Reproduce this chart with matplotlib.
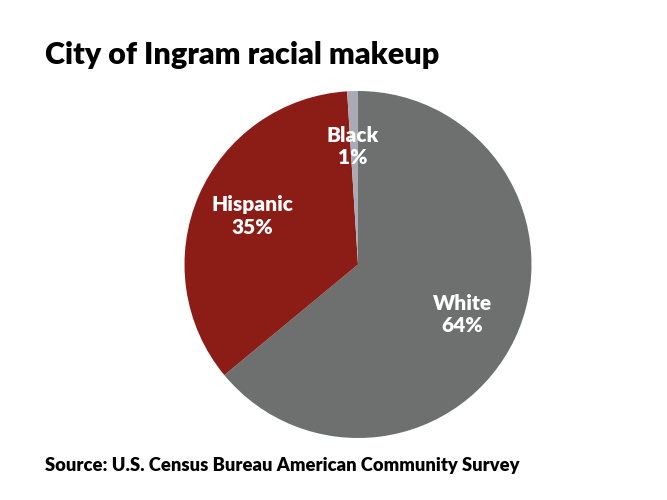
import matplotlib
matplotlib.use("Agg")
import matplotlib.pyplot as plt

categories = ["White", "Hispanic", "Black"]
values = [64, 35, 1]
labels_pct = ["64%", "35%", "1%"]
colors = ["#6d706e", "#8c1c16", "#a9aab3"]

title = "City of Ingram racial makeup"
source = "Source: U.S. Census Bureau American Community Survey"

fig = plt.figure(figsize=(6.67, 5), dpi=100)
cx, cy, r = 358, 264.5, 173.5
ax = fig.add_axes([(cx - r) / 667, (500 - cy - r) / 500, 2 * r / 667, 2 * r / 500])
wedges, _ = ax.pie(values, colors=colors, startangle=90, counterclock=False,
                   wedgeprops=dict(linewidth=0))
ax.set_xlim(-1, 1)
ax.set_ylim(-1, 1)
ax.set_aspect("equal")
ax.axis("off")

label_pos = [(0.60, -0.29), (-0.61, 0.28), (-0.03, 0.68)]
for cat, pct, (x, y) in zip(categories, labels_pct, label_pos):
    ax.text(x, y, f"{cat}\n{pct}", ha="center", va="center", color="white",
            fontsize=15, fontweight="heavy", family="Lato", linespacing=1.2)

fig.text(45 / 667, 1 - 55 / 500, title, fontsize=22, fontweight="heavy",
         family="Lato", ha="left", va="center", color="black")
fig.text(45 / 667, 1 - 465 / 500, source, fontsize=13.2, fontweight="heavy",
         family="Lato", ha="left", va="center", color="black")

fig.savefig("out.png", dpi=100)
